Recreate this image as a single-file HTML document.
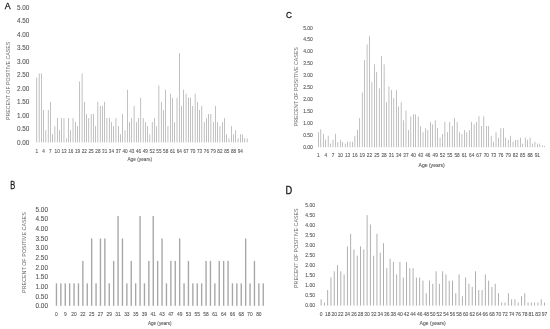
<!DOCTYPE html>
<html><head><meta charset="utf-8"><title>Figure</title>
<style>
html,body{margin:0;padding:0;background:#fff;}
svg{display:block;font-family:"Liberation Sans", Arial, sans-serif;}
</style></head>
<body>
<svg width="550" height="329" viewBox="0 0 550 329">
<rect width="550" height="329" fill="#ffffff"/>
<g fill="#727272">
<rect x="36.63" y="77.46" width="0.44" height="64.94"/>
<rect x="38.89" y="73.40" width="0.44" height="69.00"/>
<rect x="41.15" y="73.40" width="0.44" height="69.00"/>
<rect x="43.41" y="109.93" width="0.44" height="32.47"/>
<rect x="45.67" y="130.22" width="0.44" height="12.18"/>
<rect x="47.93" y="109.93" width="0.44" height="32.47"/>
<rect x="50.19" y="101.81" width="0.44" height="40.59"/>
<rect x="52.45" y="134.28" width="0.44" height="8.12"/>
<rect x="54.71" y="126.16" width="0.44" height="16.24"/>
<rect x="56.98" y="118.05" width="0.44" height="24.35"/>
<rect x="59.24" y="130.22" width="0.44" height="12.18"/>
<rect x="61.50" y="118.05" width="0.44" height="24.35"/>
<rect x="63.76" y="118.05" width="0.44" height="24.35"/>
<rect x="66.02" y="138.34" width="0.44" height="4.06"/>
<rect x="68.28" y="118.05" width="0.44" height="24.35"/>
<rect x="70.54" y="130.22" width="0.44" height="12.18"/>
<rect x="72.80" y="118.05" width="0.44" height="24.35"/>
<rect x="75.06" y="122.11" width="0.44" height="20.29"/>
<rect x="77.32" y="126.16" width="0.44" height="16.24"/>
<rect x="79.58" y="81.52" width="0.44" height="60.88"/>
<rect x="81.84" y="73.40" width="0.44" height="69.00"/>
<rect x="84.10" y="101.81" width="0.44" height="40.59"/>
<rect x="86.36" y="113.99" width="0.44" height="28.41"/>
<rect x="88.62" y="118.05" width="0.44" height="24.35"/>
<rect x="90.88" y="113.99" width="0.44" height="28.41"/>
<rect x="93.15" y="113.99" width="0.44" height="28.41"/>
<rect x="95.41" y="126.16" width="0.44" height="16.24"/>
<rect x="97.67" y="101.81" width="0.44" height="40.59"/>
<rect x="99.93" y="105.87" width="0.44" height="36.53"/>
<rect x="102.19" y="105.87" width="0.44" height="36.53"/>
<rect x="104.45" y="101.81" width="0.44" height="40.59"/>
<rect x="106.71" y="118.05" width="0.44" height="24.35"/>
<rect x="108.97" y="118.05" width="0.44" height="24.35"/>
<rect x="111.23" y="122.11" width="0.44" height="20.29"/>
<rect x="113.49" y="126.16" width="0.44" height="16.24"/>
<rect x="115.75" y="118.05" width="0.44" height="24.35"/>
<rect x="118.01" y="126.16" width="0.44" height="16.24"/>
<rect x="120.27" y="134.28" width="0.44" height="8.12"/>
<rect x="122.53" y="113.99" width="0.44" height="28.41"/>
<rect x="124.79" y="130.22" width="0.44" height="12.18"/>
<rect x="127.05" y="89.63" width="0.44" height="52.77"/>
<rect x="129.31" y="122.11" width="0.44" height="20.29"/>
<rect x="131.58" y="118.05" width="0.44" height="24.35"/>
<rect x="133.84" y="105.87" width="0.44" height="36.53"/>
<rect x="136.10" y="122.11" width="0.44" height="20.29"/>
<rect x="138.36" y="118.05" width="0.44" height="24.35"/>
<rect x="140.62" y="97.75" width="0.44" height="44.65"/>
<rect x="142.88" y="118.05" width="0.44" height="24.35"/>
<rect x="145.14" y="122.11" width="0.44" height="20.29"/>
<rect x="147.40" y="126.16" width="0.44" height="16.24"/>
<rect x="149.66" y="134.28" width="0.44" height="8.12"/>
<rect x="151.92" y="122.11" width="0.44" height="20.29"/>
<rect x="154.18" y="118.05" width="0.44" height="24.35"/>
<rect x="156.44" y="126.16" width="0.44" height="16.24"/>
<rect x="158.70" y="85.57" width="0.44" height="56.83"/>
<rect x="160.96" y="101.81" width="0.44" height="40.59"/>
<rect x="163.22" y="109.93" width="0.44" height="32.47"/>
<rect x="165.48" y="89.63" width="0.44" height="52.77"/>
<rect x="167.74" y="126.16" width="0.44" height="16.24"/>
<rect x="170.01" y="93.69" width="0.44" height="48.71"/>
<rect x="172.27" y="97.75" width="0.44" height="44.65"/>
<rect x="174.53" y="122.11" width="0.44" height="20.29"/>
<rect x="176.79" y="97.75" width="0.44" height="44.65"/>
<rect x="179.05" y="53.10" width="0.44" height="89.30"/>
<rect x="181.31" y="105.87" width="0.44" height="36.53"/>
<rect x="183.57" y="89.63" width="0.44" height="52.77"/>
<rect x="185.83" y="93.69" width="0.44" height="48.71"/>
<rect x="188.09" y="97.75" width="0.44" height="44.65"/>
<rect x="190.35" y="97.75" width="0.44" height="44.65"/>
<rect x="192.61" y="105.87" width="0.44" height="36.53"/>
<rect x="194.87" y="93.69" width="0.44" height="48.71"/>
<rect x="197.13" y="101.81" width="0.44" height="40.59"/>
<rect x="199.39" y="109.93" width="0.44" height="32.47"/>
<rect x="201.65" y="105.87" width="0.44" height="36.53"/>
<rect x="203.91" y="122.11" width="0.44" height="20.29"/>
<rect x="206.18" y="118.05" width="0.44" height="24.35"/>
<rect x="208.44" y="113.99" width="0.44" height="28.41"/>
<rect x="210.70" y="113.99" width="0.44" height="28.41"/>
<rect x="212.96" y="122.11" width="0.44" height="20.29"/>
<rect x="215.22" y="105.87" width="0.44" height="36.53"/>
<rect x="217.48" y="122.11" width="0.44" height="20.29"/>
<rect x="219.74" y="126.16" width="0.44" height="16.24"/>
<rect x="222.00" y="122.11" width="0.44" height="20.29"/>
<rect x="224.26" y="118.05" width="0.44" height="24.35"/>
<rect x="226.52" y="134.28" width="0.44" height="8.12"/>
<rect x="228.78" y="138.34" width="0.44" height="4.06"/>
<rect x="231.04" y="126.16" width="0.44" height="16.24"/>
<rect x="233.30" y="134.28" width="0.44" height="8.12"/>
<rect x="235.56" y="130.22" width="0.44" height="12.18"/>
<rect x="237.82" y="138.34" width="0.44" height="4.06"/>
<rect x="240.08" y="134.28" width="0.44" height="8.12"/>
<rect x="242.34" y="134.28" width="0.44" height="8.12"/>
<rect x="244.61" y="138.34" width="0.44" height="4.06"/>
<rect x="246.87" y="138.34" width="0.44" height="4.06"/>
</g>
<text x="29.40" y="144.81" font-size="7.0" fill="#575757" text-anchor="end" textLength="12.40" lengthAdjust="spacingAndGlyphs" stroke="#575757" stroke-width="0.1">0.00</text>
<text x="29.40" y="131.28" font-size="7.0" fill="#575757" text-anchor="end" textLength="12.40" lengthAdjust="spacingAndGlyphs" stroke="#575757" stroke-width="0.1">0.50</text>
<text x="29.40" y="117.75" font-size="7.0" fill="#575757" text-anchor="end" textLength="12.40" lengthAdjust="spacingAndGlyphs" stroke="#575757" stroke-width="0.1">1.00</text>
<text x="29.40" y="104.22" font-size="7.0" fill="#575757" text-anchor="end" textLength="12.40" lengthAdjust="spacingAndGlyphs" stroke="#575757" stroke-width="0.1">1.50</text>
<text x="29.40" y="90.69" font-size="7.0" fill="#575757" text-anchor="end" textLength="12.40" lengthAdjust="spacingAndGlyphs" stroke="#575757" stroke-width="0.1">2.00</text>
<text x="29.40" y="77.16" font-size="7.0" fill="#575757" text-anchor="end" textLength="12.40" lengthAdjust="spacingAndGlyphs" stroke="#575757" stroke-width="0.1">2.50</text>
<text x="29.40" y="63.63" font-size="7.0" fill="#575757" text-anchor="end" textLength="12.40" lengthAdjust="spacingAndGlyphs" stroke="#575757" stroke-width="0.1">3.00</text>
<text x="29.40" y="50.10" font-size="7.0" fill="#575757" text-anchor="end" textLength="12.40" lengthAdjust="spacingAndGlyphs" stroke="#575757" stroke-width="0.1">3.50</text>
<text x="29.40" y="36.57" font-size="7.0" fill="#575757" text-anchor="end" textLength="12.40" lengthAdjust="spacingAndGlyphs" stroke="#575757" stroke-width="0.1">4.00</text>
<text x="29.40" y="23.04" font-size="7.0" fill="#575757" text-anchor="end" textLength="12.40" lengthAdjust="spacingAndGlyphs" stroke="#575757" stroke-width="0.1">4.50</text>
<text x="29.40" y="9.51" font-size="7.0" fill="#575757" text-anchor="end" textLength="12.40" lengthAdjust="spacingAndGlyphs" stroke="#575757" stroke-width="0.1">5.00</text>
<text x="36.85" y="152.95" font-size="6.0" fill="#575757" text-anchor="middle" textLength="2.60" lengthAdjust="spacingAndGlyphs" stroke="#575757" stroke-width="0.1">1</text>
<text x="43.63" y="152.95" font-size="6.0" fill="#575757" text-anchor="middle" textLength="2.60" lengthAdjust="spacingAndGlyphs" stroke="#575757" stroke-width="0.1">4</text>
<text x="50.41" y="152.95" font-size="6.0" fill="#575757" text-anchor="middle" textLength="2.60" lengthAdjust="spacingAndGlyphs" stroke="#575757" stroke-width="0.1">7</text>
<text x="57.20" y="152.95" font-size="6.0" fill="#575757" text-anchor="middle" textLength="5.20" lengthAdjust="spacingAndGlyphs" stroke="#575757" stroke-width="0.1">10</text>
<text x="63.98" y="152.95" font-size="6.0" fill="#575757" text-anchor="middle" textLength="5.20" lengthAdjust="spacingAndGlyphs" stroke="#575757" stroke-width="0.1">13</text>
<text x="70.76" y="152.95" font-size="6.0" fill="#575757" text-anchor="middle" textLength="5.20" lengthAdjust="spacingAndGlyphs" stroke="#575757" stroke-width="0.1">16</text>
<text x="77.54" y="152.95" font-size="6.0" fill="#575757" text-anchor="middle" textLength="5.20" lengthAdjust="spacingAndGlyphs" stroke="#575757" stroke-width="0.1">19</text>
<text x="84.32" y="152.95" font-size="6.0" fill="#575757" text-anchor="middle" textLength="5.20" lengthAdjust="spacingAndGlyphs" stroke="#575757" stroke-width="0.1">22</text>
<text x="91.10" y="152.95" font-size="6.0" fill="#575757" text-anchor="middle" textLength="5.20" lengthAdjust="spacingAndGlyphs" stroke="#575757" stroke-width="0.1">25</text>
<text x="97.89" y="152.95" font-size="6.0" fill="#575757" text-anchor="middle" textLength="5.20" lengthAdjust="spacingAndGlyphs" stroke="#575757" stroke-width="0.1">28</text>
<text x="104.67" y="152.95" font-size="6.0" fill="#575757" text-anchor="middle" textLength="5.20" lengthAdjust="spacingAndGlyphs" stroke="#575757" stroke-width="0.1">31</text>
<text x="111.45" y="152.95" font-size="6.0" fill="#575757" text-anchor="middle" textLength="5.20" lengthAdjust="spacingAndGlyphs" stroke="#575757" stroke-width="0.1">34</text>
<text x="118.23" y="152.95" font-size="6.0" fill="#575757" text-anchor="middle" textLength="5.20" lengthAdjust="spacingAndGlyphs" stroke="#575757" stroke-width="0.1">37</text>
<text x="125.01" y="152.95" font-size="6.0" fill="#575757" text-anchor="middle" textLength="5.20" lengthAdjust="spacingAndGlyphs" stroke="#575757" stroke-width="0.1">40</text>
<text x="131.80" y="152.95" font-size="6.0" fill="#575757" text-anchor="middle" textLength="5.20" lengthAdjust="spacingAndGlyphs" stroke="#575757" stroke-width="0.1">43</text>
<text x="138.58" y="152.95" font-size="6.0" fill="#575757" text-anchor="middle" textLength="5.20" lengthAdjust="spacingAndGlyphs" stroke="#575757" stroke-width="0.1">46</text>
<text x="145.36" y="152.95" font-size="6.0" fill="#575757" text-anchor="middle" textLength="5.20" lengthAdjust="spacingAndGlyphs" stroke="#575757" stroke-width="0.1">49</text>
<text x="152.14" y="152.95" font-size="6.0" fill="#575757" text-anchor="middle" textLength="5.20" lengthAdjust="spacingAndGlyphs" stroke="#575757" stroke-width="0.1">52</text>
<text x="158.92" y="152.95" font-size="6.0" fill="#575757" text-anchor="middle" textLength="5.20" lengthAdjust="spacingAndGlyphs" stroke="#575757" stroke-width="0.1">55</text>
<text x="165.70" y="152.95" font-size="6.0" fill="#575757" text-anchor="middle" textLength="5.20" lengthAdjust="spacingAndGlyphs" stroke="#575757" stroke-width="0.1">58</text>
<text x="172.49" y="152.95" font-size="6.0" fill="#575757" text-anchor="middle" textLength="5.20" lengthAdjust="spacingAndGlyphs" stroke="#575757" stroke-width="0.1">61</text>
<text x="179.27" y="152.95" font-size="6.0" fill="#575757" text-anchor="middle" textLength="5.20" lengthAdjust="spacingAndGlyphs" stroke="#575757" stroke-width="0.1">64</text>
<text x="186.05" y="152.95" font-size="6.0" fill="#575757" text-anchor="middle" textLength="5.20" lengthAdjust="spacingAndGlyphs" stroke="#575757" stroke-width="0.1">67</text>
<text x="192.83" y="152.95" font-size="6.0" fill="#575757" text-anchor="middle" textLength="5.20" lengthAdjust="spacingAndGlyphs" stroke="#575757" stroke-width="0.1">70</text>
<text x="199.61" y="152.95" font-size="6.0" fill="#575757" text-anchor="middle" textLength="5.20" lengthAdjust="spacingAndGlyphs" stroke="#575757" stroke-width="0.1">73</text>
<text x="206.40" y="152.95" font-size="6.0" fill="#575757" text-anchor="middle" textLength="5.20" lengthAdjust="spacingAndGlyphs" stroke="#575757" stroke-width="0.1">76</text>
<text x="213.18" y="152.95" font-size="6.0" fill="#575757" text-anchor="middle" textLength="5.20" lengthAdjust="spacingAndGlyphs" stroke="#575757" stroke-width="0.1">79</text>
<text x="219.96" y="152.95" font-size="6.0" fill="#575757" text-anchor="middle" textLength="5.20" lengthAdjust="spacingAndGlyphs" stroke="#575757" stroke-width="0.1">82</text>
<text x="226.74" y="152.95" font-size="6.0" fill="#575757" text-anchor="middle" textLength="5.20" lengthAdjust="spacingAndGlyphs" stroke="#575757" stroke-width="0.1">85</text>
<text x="233.52" y="152.95" font-size="6.0" fill="#575757" text-anchor="middle" textLength="5.20" lengthAdjust="spacingAndGlyphs" stroke="#575757" stroke-width="0.1">88</text>
<text x="240.30" y="152.95" font-size="6.0" fill="#575757" text-anchor="middle" textLength="5.20" lengthAdjust="spacingAndGlyphs" stroke="#575757" stroke-width="0.1">94</text>
<text x="10.00" y="80.85" font-size="6.1" fill="#686868" text-anchor="middle" textLength="78.20" lengthAdjust="spacingAndGlyphs" transform="rotate(-90 10.00 80.85)">PRECENT OF POSITIVE CASES</text>
<text x="139.70" y="160.70" font-size="6.1" fill="#575757" text-anchor="middle" textLength="24.60" lengthAdjust="spacingAndGlyphs" stroke="#575757" stroke-width="0.1">Age (years)</text>
<text x="4.80" y="9.45" font-size="9.8" fill="#1a1a1a" text-anchor="start" textLength="5.90" lengthAdjust="spacingAndGlyphs" stroke="#1a1a1a" stroke-width="0.3">A</text>
<g fill="#a6a6a6">
<rect x="55.78" y="283.35" width="1.35" height="22.45"/>
<rect x="60.18" y="283.35" width="1.35" height="22.45"/>
<rect x="64.58" y="283.35" width="1.35" height="22.45"/>
<rect x="68.98" y="283.35" width="1.35" height="22.45"/>
<rect x="73.38" y="283.35" width="1.35" height="22.45"/>
<rect x="77.78" y="283.35" width="1.35" height="22.45"/>
<rect x="82.18" y="260.91" width="1.35" height="44.89"/>
<rect x="86.58" y="283.35" width="1.35" height="22.45"/>
<rect x="90.98" y="238.46" width="1.35" height="67.34"/>
<rect x="95.38" y="283.35" width="1.35" height="22.45"/>
<rect x="99.78" y="238.46" width="1.35" height="67.34"/>
<rect x="104.18" y="238.46" width="1.35" height="67.34"/>
<rect x="108.58" y="283.35" width="1.35" height="22.45"/>
<rect x="112.98" y="260.91" width="1.35" height="44.89"/>
<rect x="117.38" y="216.02" width="1.35" height="89.78"/>
<rect x="121.78" y="238.46" width="1.35" height="67.34"/>
<rect x="126.18" y="283.35" width="1.35" height="22.45"/>
<rect x="130.57" y="260.91" width="1.35" height="44.89"/>
<rect x="134.97" y="283.35" width="1.35" height="22.45"/>
<rect x="139.38" y="216.02" width="1.35" height="89.78"/>
<rect x="143.77" y="283.35" width="1.35" height="22.45"/>
<rect x="148.18" y="260.91" width="1.35" height="44.89"/>
<rect x="152.57" y="216.02" width="1.35" height="89.78"/>
<rect x="156.97" y="260.91" width="1.35" height="44.89"/>
<rect x="161.38" y="238.46" width="1.35" height="67.34"/>
<rect x="165.78" y="283.35" width="1.35" height="22.45"/>
<rect x="170.18" y="260.91" width="1.35" height="44.89"/>
<rect x="174.57" y="260.91" width="1.35" height="44.89"/>
<rect x="178.98" y="238.46" width="1.35" height="67.34"/>
<rect x="183.38" y="283.35" width="1.35" height="22.45"/>
<rect x="187.77" y="260.91" width="1.35" height="44.89"/>
<rect x="192.18" y="283.35" width="1.35" height="22.45"/>
<rect x="196.57" y="283.35" width="1.35" height="22.45"/>
<rect x="200.98" y="283.35" width="1.35" height="22.45"/>
<rect x="205.38" y="260.91" width="1.35" height="44.89"/>
<rect x="209.77" y="260.91" width="1.35" height="44.89"/>
<rect x="214.18" y="283.35" width="1.35" height="22.45"/>
<rect x="218.57" y="260.91" width="1.35" height="44.89"/>
<rect x="222.98" y="260.91" width="1.35" height="44.89"/>
<rect x="227.38" y="260.91" width="1.35" height="44.89"/>
<rect x="231.77" y="283.35" width="1.35" height="22.45"/>
<rect x="236.18" y="283.35" width="1.35" height="22.45"/>
<rect x="240.57" y="283.35" width="1.35" height="22.45"/>
<rect x="244.98" y="238.46" width="1.35" height="67.34"/>
<rect x="249.38" y="283.35" width="1.35" height="22.45"/>
<rect x="253.78" y="260.91" width="1.35" height="44.89"/>
<rect x="258.18" y="283.35" width="1.35" height="22.45"/>
<rect x="262.57" y="283.35" width="1.35" height="22.45"/>
</g>
<text x="48.00" y="308.22" font-size="6.9" fill="#575757" text-anchor="end" textLength="12.50" lengthAdjust="spacingAndGlyphs" stroke="#575757" stroke-width="0.1">0.00</text>
<text x="48.00" y="298.57" font-size="6.9" fill="#575757" text-anchor="end" textLength="12.50" lengthAdjust="spacingAndGlyphs" stroke="#575757" stroke-width="0.1">0.50</text>
<text x="48.00" y="288.92" font-size="6.9" fill="#575757" text-anchor="end" textLength="12.50" lengthAdjust="spacingAndGlyphs" stroke="#575757" stroke-width="0.1">1.00</text>
<text x="48.00" y="279.27" font-size="6.9" fill="#575757" text-anchor="end" textLength="12.50" lengthAdjust="spacingAndGlyphs" stroke="#575757" stroke-width="0.1">1.50</text>
<text x="48.00" y="269.62" font-size="6.9" fill="#575757" text-anchor="end" textLength="12.50" lengthAdjust="spacingAndGlyphs" stroke="#575757" stroke-width="0.1">2.00</text>
<text x="48.00" y="259.97" font-size="6.9" fill="#575757" text-anchor="end" textLength="12.50" lengthAdjust="spacingAndGlyphs" stroke="#575757" stroke-width="0.1">2.50</text>
<text x="48.00" y="250.32" font-size="6.9" fill="#575757" text-anchor="end" textLength="12.50" lengthAdjust="spacingAndGlyphs" stroke="#575757" stroke-width="0.1">3.00</text>
<text x="48.00" y="240.67" font-size="6.9" fill="#575757" text-anchor="end" textLength="12.50" lengthAdjust="spacingAndGlyphs" stroke="#575757" stroke-width="0.1">3.50</text>
<text x="48.00" y="231.02" font-size="6.9" fill="#575757" text-anchor="end" textLength="12.50" lengthAdjust="spacingAndGlyphs" stroke="#575757" stroke-width="0.1">4.00</text>
<text x="48.00" y="221.37" font-size="6.9" fill="#575757" text-anchor="end" textLength="12.50" lengthAdjust="spacingAndGlyphs" stroke="#575757" stroke-width="0.1">4.50</text>
<text x="48.00" y="211.72" font-size="6.9" fill="#575757" text-anchor="end" textLength="12.50" lengthAdjust="spacingAndGlyphs" stroke="#575757" stroke-width="0.1">5.00</text>
<text x="56.45" y="315.97" font-size="5.5" fill="#575757" text-anchor="middle" textLength="2.70" lengthAdjust="spacingAndGlyphs" stroke="#575757" stroke-width="0.1">0</text>
<text x="65.25" y="315.97" font-size="5.5" fill="#575757" text-anchor="middle" textLength="2.70" lengthAdjust="spacingAndGlyphs" stroke="#575757" stroke-width="0.1">9</text>
<text x="74.05" y="315.97" font-size="5.5" fill="#575757" text-anchor="middle" textLength="5.40" lengthAdjust="spacingAndGlyphs" stroke="#575757" stroke-width="0.1">20</text>
<text x="82.85" y="315.97" font-size="5.5" fill="#575757" text-anchor="middle" textLength="5.40" lengthAdjust="spacingAndGlyphs" stroke="#575757" stroke-width="0.1">22</text>
<text x="91.65" y="315.97" font-size="5.5" fill="#575757" text-anchor="middle" textLength="5.40" lengthAdjust="spacingAndGlyphs" stroke="#575757" stroke-width="0.1">25</text>
<text x="100.45" y="315.97" font-size="5.5" fill="#575757" text-anchor="middle" textLength="5.40" lengthAdjust="spacingAndGlyphs" stroke="#575757" stroke-width="0.1">27</text>
<text x="109.25" y="315.97" font-size="5.5" fill="#575757" text-anchor="middle" textLength="5.40" lengthAdjust="spacingAndGlyphs" stroke="#575757" stroke-width="0.1">29</text>
<text x="118.05" y="315.97" font-size="5.5" fill="#575757" text-anchor="middle" textLength="5.40" lengthAdjust="spacingAndGlyphs" stroke="#575757" stroke-width="0.1">31</text>
<text x="126.85" y="315.97" font-size="5.5" fill="#575757" text-anchor="middle" textLength="5.40" lengthAdjust="spacingAndGlyphs" stroke="#575757" stroke-width="0.1">33</text>
<text x="135.65" y="315.97" font-size="5.5" fill="#575757" text-anchor="middle" textLength="5.40" lengthAdjust="spacingAndGlyphs" stroke="#575757" stroke-width="0.1">35</text>
<text x="144.45" y="315.97" font-size="5.5" fill="#575757" text-anchor="middle" textLength="5.40" lengthAdjust="spacingAndGlyphs" stroke="#575757" stroke-width="0.1">39</text>
<text x="153.25" y="315.97" font-size="5.5" fill="#575757" text-anchor="middle" textLength="5.40" lengthAdjust="spacingAndGlyphs" stroke="#575757" stroke-width="0.1">41</text>
<text x="162.05" y="315.97" font-size="5.5" fill="#575757" text-anchor="middle" textLength="5.40" lengthAdjust="spacingAndGlyphs" stroke="#575757" stroke-width="0.1">43</text>
<text x="170.85" y="315.97" font-size="5.5" fill="#575757" text-anchor="middle" textLength="5.40" lengthAdjust="spacingAndGlyphs" stroke="#575757" stroke-width="0.1">47</text>
<text x="179.65" y="315.97" font-size="5.5" fill="#575757" text-anchor="middle" textLength="5.40" lengthAdjust="spacingAndGlyphs" stroke="#575757" stroke-width="0.1">49</text>
<text x="188.45" y="315.97" font-size="5.5" fill="#575757" text-anchor="middle" textLength="5.40" lengthAdjust="spacingAndGlyphs" stroke="#575757" stroke-width="0.1">53</text>
<text x="197.25" y="315.97" font-size="5.5" fill="#575757" text-anchor="middle" textLength="5.40" lengthAdjust="spacingAndGlyphs" stroke="#575757" stroke-width="0.1">55</text>
<text x="206.05" y="315.97" font-size="5.5" fill="#575757" text-anchor="middle" textLength="5.40" lengthAdjust="spacingAndGlyphs" stroke="#575757" stroke-width="0.1">58</text>
<text x="214.85" y="315.97" font-size="5.5" fill="#575757" text-anchor="middle" textLength="5.40" lengthAdjust="spacingAndGlyphs" stroke="#575757" stroke-width="0.1">61</text>
<text x="223.65" y="315.97" font-size="5.5" fill="#575757" text-anchor="middle" textLength="5.40" lengthAdjust="spacingAndGlyphs" stroke="#575757" stroke-width="0.1">64</text>
<text x="232.45" y="315.97" font-size="5.5" fill="#575757" text-anchor="middle" textLength="5.40" lengthAdjust="spacingAndGlyphs" stroke="#575757" stroke-width="0.1">66</text>
<text x="241.25" y="315.97" font-size="5.5" fill="#575757" text-anchor="middle" textLength="5.40" lengthAdjust="spacingAndGlyphs" stroke="#575757" stroke-width="0.1">68</text>
<text x="250.05" y="315.97" font-size="5.5" fill="#575757" text-anchor="middle" textLength="5.40" lengthAdjust="spacingAndGlyphs" stroke="#575757" stroke-width="0.1">70</text>
<text x="258.85" y="315.97" font-size="5.5" fill="#575757" text-anchor="middle" textLength="5.40" lengthAdjust="spacingAndGlyphs" stroke="#575757" stroke-width="0.1">80</text>
<text x="25.88" y="252.60" font-size="5.8" fill="#686868" text-anchor="middle" textLength="80.70" lengthAdjust="spacingAndGlyphs" transform="rotate(-90 25.88 252.60)">PRECENT OF POSITIVE CASES</text>
<text x="159.80" y="325.20" font-size="5.4" fill="#575757" text-anchor="middle" textLength="23.70" lengthAdjust="spacingAndGlyphs" stroke="#575757" stroke-width="0.1">Age (years)</text>
<text x="10.30" y="188.75" font-size="10.1" fill="#1a1a1a" text-anchor="start" textLength="5.00" lengthAdjust="spacingAndGlyphs" stroke="#1a1a1a" stroke-width="0.3">B</text>
<g fill="#8c8c8c">
<rect x="318.12" y="132.19" width="0.55" height="15.01"/>
<rect x="320.56" y="129.33" width="0.55" height="17.87"/>
<rect x="322.99" y="133.86" width="0.55" height="13.34"/>
<rect x="325.42" y="139.58" width="0.55" height="7.62"/>
<rect x="327.86" y="135.77" width="0.55" height="11.43"/>
<rect x="330.29" y="143.63" width="0.55" height="3.57"/>
<rect x="332.72" y="139.82" width="0.55" height="7.38"/>
<rect x="335.16" y="133.86" width="0.55" height="13.34"/>
<rect x="337.59" y="141.96" width="0.55" height="5.24"/>
<rect x="340.02" y="139.82" width="0.55" height="7.38"/>
<rect x="342.45" y="141.96" width="0.55" height="5.24"/>
<rect x="344.89" y="143.63" width="0.55" height="3.57"/>
<rect x="347.32" y="141.72" width="0.55" height="5.48"/>
<rect x="349.75" y="141.72" width="0.55" height="5.48"/>
<rect x="352.19" y="141.72" width="0.55" height="5.48"/>
<rect x="354.62" y="135.77" width="0.55" height="11.43"/>
<rect x="357.05" y="129.81" width="0.55" height="17.39"/>
<rect x="359.49" y="118.14" width="0.55" height="29.06"/>
<rect x="361.92" y="92.41" width="0.55" height="54.79"/>
<rect x="364.35" y="60.02" width="0.55" height="87.18"/>
<rect x="366.78" y="44.30" width="0.55" height="102.90"/>
<rect x="369.22" y="36.20" width="0.55" height="111.00"/>
<rect x="371.65" y="82.17" width="0.55" height="65.03"/>
<rect x="374.08" y="64.31" width="0.55" height="82.89"/>
<rect x="376.52" y="71.93" width="0.55" height="75.27"/>
<rect x="378.95" y="88.36" width="0.55" height="58.84"/>
<rect x="381.38" y="55.97" width="0.55" height="91.23"/>
<rect x="383.82" y="64.31" width="0.55" height="82.89"/>
<rect x="386.25" y="102.18" width="0.55" height="45.02"/>
<rect x="388.68" y="86.46" width="0.55" height="60.74"/>
<rect x="391.12" y="90.03" width="0.55" height="57.17"/>
<rect x="393.55" y="98.13" width="0.55" height="49.07"/>
<rect x="395.98" y="90.03" width="0.55" height="57.17"/>
<rect x="398.41" y="106.47" width="0.55" height="40.73"/>
<rect x="400.85" y="102.18" width="0.55" height="45.02"/>
<rect x="403.28" y="120.28" width="0.55" height="26.92"/>
<rect x="405.71" y="110.52" width="0.55" height="36.68"/>
<rect x="408.15" y="130.05" width="0.55" height="17.15"/>
<rect x="410.58" y="116.47" width="0.55" height="30.73"/>
<rect x="413.01" y="114.33" width="0.55" height="32.87"/>
<rect x="415.44" y="114.33" width="0.55" height="32.87"/>
<rect x="417.88" y="116.47" width="0.55" height="30.73"/>
<rect x="420.31" y="126.24" width="0.55" height="20.96"/>
<rect x="422.74" y="132.19" width="0.55" height="15.01"/>
<rect x="425.18" y="128.14" width="0.55" height="19.06"/>
<rect x="427.61" y="130.05" width="0.55" height="17.15"/>
<rect x="430.04" y="121.95" width="0.55" height="25.25"/>
<rect x="432.48" y="124.33" width="0.55" height="22.87"/>
<rect x="434.91" y="120.28" width="0.55" height="26.92"/>
<rect x="437.34" y="128.14" width="0.55" height="19.06"/>
<rect x="439.77" y="137.67" width="0.55" height="9.53"/>
<rect x="442.21" y="134.10" width="0.55" height="13.10"/>
<rect x="444.64" y="121.95" width="0.55" height="25.25"/>
<rect x="447.07" y="132.19" width="0.55" height="15.01"/>
<rect x="449.51" y="121.95" width="0.55" height="25.25"/>
<rect x="451.94" y="126.00" width="0.55" height="21.20"/>
<rect x="454.37" y="117.90" width="0.55" height="29.30"/>
<rect x="456.81" y="121.95" width="0.55" height="25.25"/>
<rect x="459.24" y="132.19" width="0.55" height="15.01"/>
<rect x="461.67" y="134.10" width="0.55" height="13.10"/>
<rect x="464.11" y="130.05" width="0.55" height="17.15"/>
<rect x="466.54" y="132.19" width="0.55" height="15.01"/>
<rect x="468.97" y="130.05" width="0.55" height="17.15"/>
<rect x="471.40" y="121.95" width="0.55" height="25.25"/>
<rect x="473.84" y="124.33" width="0.55" height="22.87"/>
<rect x="476.27" y="121.95" width="0.55" height="25.25"/>
<rect x="478.70" y="116.23" width="0.55" height="30.97"/>
<rect x="481.14" y="126.00" width="0.55" height="21.20"/>
<rect x="483.57" y="116.23" width="0.55" height="30.97"/>
<rect x="486.00" y="126.00" width="0.55" height="21.20"/>
<rect x="488.44" y="126.00" width="0.55" height="21.20"/>
<rect x="490.87" y="135.77" width="0.55" height="11.43"/>
<rect x="493.30" y="141.72" width="0.55" height="5.48"/>
<rect x="495.73" y="132.19" width="0.55" height="15.01"/>
<rect x="498.17" y="137.67" width="0.55" height="9.53"/>
<rect x="500.60" y="128.14" width="0.55" height="19.06"/>
<rect x="503.03" y="128.14" width="0.55" height="19.06"/>
<rect x="505.47" y="137.67" width="0.55" height="9.53"/>
<rect x="507.90" y="139.82" width="0.55" height="7.38"/>
<rect x="510.33" y="135.77" width="0.55" height="11.43"/>
<rect x="512.76" y="141.72" width="0.55" height="5.48"/>
<rect x="515.20" y="139.82" width="0.55" height="7.38"/>
<rect x="517.63" y="139.82" width="0.55" height="7.38"/>
<rect x="520.06" y="137.67" width="0.55" height="9.53"/>
<rect x="522.50" y="143.63" width="0.55" height="3.57"/>
<rect x="524.93" y="137.67" width="0.55" height="9.53"/>
<rect x="527.36" y="139.82" width="0.55" height="7.38"/>
<rect x="529.80" y="137.67" width="0.55" height="9.53"/>
<rect x="532.23" y="143.63" width="0.55" height="3.57"/>
<rect x="534.66" y="141.72" width="0.55" height="5.48"/>
<rect x="537.09" y="143.63" width="0.55" height="3.57"/>
<rect x="539.53" y="143.63" width="0.55" height="3.57"/>
<rect x="541.96" y="145.29" width="0.55" height="1.91"/>
<rect x="544.39" y="146.01" width="0.55" height="1.19"/>
</g>
<text x="312.90" y="148.61" font-size="5.2" fill="#575757" text-anchor="end" textLength="9.70" lengthAdjust="spacingAndGlyphs" stroke="#575757" stroke-width="0.1">0.00</text>
<text x="312.90" y="136.70" font-size="5.2" fill="#575757" text-anchor="end" textLength="9.70" lengthAdjust="spacingAndGlyphs" stroke="#575757" stroke-width="0.1">0.50</text>
<text x="312.90" y="124.79" font-size="5.2" fill="#575757" text-anchor="end" textLength="9.70" lengthAdjust="spacingAndGlyphs" stroke="#575757" stroke-width="0.1">1.00</text>
<text x="312.90" y="112.88" font-size="5.2" fill="#575757" text-anchor="end" textLength="9.70" lengthAdjust="spacingAndGlyphs" stroke="#575757" stroke-width="0.1">1.50</text>
<text x="312.90" y="100.97" font-size="5.2" fill="#575757" text-anchor="end" textLength="9.70" lengthAdjust="spacingAndGlyphs" stroke="#575757" stroke-width="0.1">2.00</text>
<text x="312.90" y="89.06" font-size="5.2" fill="#575757" text-anchor="end" textLength="9.70" lengthAdjust="spacingAndGlyphs" stroke="#575757" stroke-width="0.1">2.50</text>
<text x="312.90" y="77.15" font-size="5.2" fill="#575757" text-anchor="end" textLength="9.70" lengthAdjust="spacingAndGlyphs" stroke="#575757" stroke-width="0.1">3.00</text>
<text x="312.90" y="65.24" font-size="5.2" fill="#575757" text-anchor="end" textLength="9.70" lengthAdjust="spacingAndGlyphs" stroke="#575757" stroke-width="0.1">3.50</text>
<text x="312.90" y="53.33" font-size="5.2" fill="#575757" text-anchor="end" textLength="9.70" lengthAdjust="spacingAndGlyphs" stroke="#575757" stroke-width="0.1">4.00</text>
<text x="312.90" y="41.42" font-size="5.2" fill="#575757" text-anchor="end" textLength="9.70" lengthAdjust="spacingAndGlyphs" stroke="#575757" stroke-width="0.1">4.50</text>
<text x="312.90" y="29.51" font-size="5.2" fill="#575757" text-anchor="end" textLength="9.70" lengthAdjust="spacingAndGlyphs" stroke="#575757" stroke-width="0.1">5.00</text>
<text x="318.40" y="156.93" font-size="5.4" fill="#575757" text-anchor="middle" textLength="2.65" lengthAdjust="spacingAndGlyphs" stroke="#575757" stroke-width="0.1">1</text>
<text x="325.70" y="156.93" font-size="5.4" fill="#575757" text-anchor="middle" textLength="2.65" lengthAdjust="spacingAndGlyphs" stroke="#575757" stroke-width="0.1">4</text>
<text x="333.00" y="156.93" font-size="5.4" fill="#575757" text-anchor="middle" textLength="2.65" lengthAdjust="spacingAndGlyphs" stroke="#575757" stroke-width="0.1">7</text>
<text x="340.30" y="156.93" font-size="5.4" fill="#575757" text-anchor="middle" textLength="5.30" lengthAdjust="spacingAndGlyphs" stroke="#575757" stroke-width="0.1">10</text>
<text x="347.60" y="156.93" font-size="5.4" fill="#575757" text-anchor="middle" textLength="5.30" lengthAdjust="spacingAndGlyphs" stroke="#575757" stroke-width="0.1">13</text>
<text x="354.89" y="156.93" font-size="5.4" fill="#575757" text-anchor="middle" textLength="5.30" lengthAdjust="spacingAndGlyphs" stroke="#575757" stroke-width="0.1">16</text>
<text x="362.19" y="156.93" font-size="5.4" fill="#575757" text-anchor="middle" textLength="5.30" lengthAdjust="spacingAndGlyphs" stroke="#575757" stroke-width="0.1">19</text>
<text x="369.49" y="156.93" font-size="5.4" fill="#575757" text-anchor="middle" textLength="5.30" lengthAdjust="spacingAndGlyphs" stroke="#575757" stroke-width="0.1">22</text>
<text x="376.79" y="156.93" font-size="5.4" fill="#575757" text-anchor="middle" textLength="5.30" lengthAdjust="spacingAndGlyphs" stroke="#575757" stroke-width="0.1">25</text>
<text x="384.09" y="156.93" font-size="5.4" fill="#575757" text-anchor="middle" textLength="5.30" lengthAdjust="spacingAndGlyphs" stroke="#575757" stroke-width="0.1">28</text>
<text x="391.39" y="156.93" font-size="5.4" fill="#575757" text-anchor="middle" textLength="5.30" lengthAdjust="spacingAndGlyphs" stroke="#575757" stroke-width="0.1">31</text>
<text x="398.69" y="156.93" font-size="5.4" fill="#575757" text-anchor="middle" textLength="5.30" lengthAdjust="spacingAndGlyphs" stroke="#575757" stroke-width="0.1">34</text>
<text x="405.99" y="156.93" font-size="5.4" fill="#575757" text-anchor="middle" textLength="5.30" lengthAdjust="spacingAndGlyphs" stroke="#575757" stroke-width="0.1">37</text>
<text x="413.29" y="156.93" font-size="5.4" fill="#575757" text-anchor="middle" textLength="5.30" lengthAdjust="spacingAndGlyphs" stroke="#575757" stroke-width="0.1">40</text>
<text x="420.59" y="156.93" font-size="5.4" fill="#575757" text-anchor="middle" textLength="5.30" lengthAdjust="spacingAndGlyphs" stroke="#575757" stroke-width="0.1">43</text>
<text x="427.88" y="156.93" font-size="5.4" fill="#575757" text-anchor="middle" textLength="5.30" lengthAdjust="spacingAndGlyphs" stroke="#575757" stroke-width="0.1">46</text>
<text x="435.18" y="156.93" font-size="5.4" fill="#575757" text-anchor="middle" textLength="5.30" lengthAdjust="spacingAndGlyphs" stroke="#575757" stroke-width="0.1">49</text>
<text x="442.48" y="156.93" font-size="5.4" fill="#575757" text-anchor="middle" textLength="5.30" lengthAdjust="spacingAndGlyphs" stroke="#575757" stroke-width="0.1">52</text>
<text x="449.78" y="156.93" font-size="5.4" fill="#575757" text-anchor="middle" textLength="5.30" lengthAdjust="spacingAndGlyphs" stroke="#575757" stroke-width="0.1">55</text>
<text x="457.08" y="156.93" font-size="5.4" fill="#575757" text-anchor="middle" textLength="5.30" lengthAdjust="spacingAndGlyphs" stroke="#575757" stroke-width="0.1">58</text>
<text x="464.38" y="156.93" font-size="5.4" fill="#575757" text-anchor="middle" textLength="5.30" lengthAdjust="spacingAndGlyphs" stroke="#575757" stroke-width="0.1">61</text>
<text x="471.68" y="156.93" font-size="5.4" fill="#575757" text-anchor="middle" textLength="5.30" lengthAdjust="spacingAndGlyphs" stroke="#575757" stroke-width="0.1">64</text>
<text x="478.98" y="156.93" font-size="5.4" fill="#575757" text-anchor="middle" textLength="5.30" lengthAdjust="spacingAndGlyphs" stroke="#575757" stroke-width="0.1">67</text>
<text x="486.28" y="156.93" font-size="5.4" fill="#575757" text-anchor="middle" textLength="5.30" lengthAdjust="spacingAndGlyphs" stroke="#575757" stroke-width="0.1">70</text>
<text x="493.58" y="156.93" font-size="5.4" fill="#575757" text-anchor="middle" textLength="5.30" lengthAdjust="spacingAndGlyphs" stroke="#575757" stroke-width="0.1">73</text>
<text x="500.88" y="156.93" font-size="5.4" fill="#575757" text-anchor="middle" textLength="5.30" lengthAdjust="spacingAndGlyphs" stroke="#575757" stroke-width="0.1">76</text>
<text x="508.17" y="156.93" font-size="5.4" fill="#575757" text-anchor="middle" textLength="5.30" lengthAdjust="spacingAndGlyphs" stroke="#575757" stroke-width="0.1">79</text>
<text x="515.47" y="156.93" font-size="5.4" fill="#575757" text-anchor="middle" textLength="5.30" lengthAdjust="spacingAndGlyphs" stroke="#575757" stroke-width="0.1">82</text>
<text x="522.77" y="156.93" font-size="5.4" fill="#575757" text-anchor="middle" textLength="5.30" lengthAdjust="spacingAndGlyphs" stroke="#575757" stroke-width="0.1">85</text>
<text x="530.07" y="156.93" font-size="5.4" fill="#575757" text-anchor="middle" textLength="5.30" lengthAdjust="spacingAndGlyphs" stroke="#575757" stroke-width="0.1">88</text>
<text x="537.37" y="156.93" font-size="5.4" fill="#575757" text-anchor="middle" textLength="5.30" lengthAdjust="spacingAndGlyphs" stroke="#575757" stroke-width="0.1">91</text>
<text x="298.24" y="86.75" font-size="5.7" fill="#686868" text-anchor="middle" textLength="79.20" lengthAdjust="spacingAndGlyphs" transform="rotate(-90 298.24 86.75)">PRECENT OF POSITIVE CASES</text>
<text x="431.60" y="166.80" font-size="5.8" fill="#575757" text-anchor="middle" textLength="26.20" lengthAdjust="spacingAndGlyphs" stroke="#575757" stroke-width="0.1">Age (years)</text>
<text x="285.90" y="18.20" font-size="9.8" fill="#1a1a1a" text-anchor="start" textLength="5.90" lengthAdjust="spacingAndGlyphs" stroke="#1a1a1a" stroke-width="0.3">C</text>
<g fill="#a8a8a8">
<rect x="320.65" y="299.36" width="0.90" height="6.24"/>
<rect x="323.94" y="302.48" width="0.90" height="3.12"/>
<rect x="327.22" y="290.01" width="0.90" height="15.59"/>
<rect x="330.51" y="277.53" width="0.90" height="28.07"/>
<rect x="333.79" y="271.30" width="0.90" height="34.30"/>
<rect x="337.08" y="265.06" width="0.90" height="40.54"/>
<rect x="340.36" y="271.30" width="0.90" height="34.30"/>
<rect x="343.65" y="274.41" width="0.90" height="31.19"/>
<rect x="346.93" y="246.35" width="0.90" height="59.25"/>
<rect x="350.22" y="233.87" width="0.90" height="71.73"/>
<rect x="353.50" y="249.47" width="0.90" height="56.13"/>
<rect x="356.79" y="255.70" width="0.90" height="49.90"/>
<rect x="360.07" y="246.35" width="0.90" height="59.25"/>
<rect x="363.36" y="249.47" width="0.90" height="56.13"/>
<rect x="366.64" y="215.16" width="0.90" height="90.44"/>
<rect x="369.93" y="224.52" width="0.90" height="81.08"/>
<rect x="373.21" y="255.70" width="0.90" height="49.90"/>
<rect x="376.50" y="233.87" width="0.90" height="71.73"/>
<rect x="379.78" y="252.58" width="0.90" height="53.02"/>
<rect x="383.07" y="243.23" width="0.90" height="62.37"/>
<rect x="386.35" y="268.18" width="0.90" height="37.42"/>
<rect x="389.64" y="258.82" width="0.90" height="46.78"/>
<rect x="392.92" y="261.94" width="0.90" height="43.66"/>
<rect x="396.21" y="274.41" width="0.90" height="31.19"/>
<rect x="399.49" y="261.94" width="0.90" height="43.66"/>
<rect x="402.78" y="277.53" width="0.90" height="28.07"/>
<rect x="406.06" y="261.94" width="0.90" height="43.66"/>
<rect x="409.35" y="268.18" width="0.90" height="37.42"/>
<rect x="412.63" y="268.18" width="0.90" height="37.42"/>
<rect x="415.92" y="277.53" width="0.90" height="28.07"/>
<rect x="419.20" y="277.53" width="0.90" height="28.07"/>
<rect x="422.49" y="280.65" width="0.90" height="24.95"/>
<rect x="425.77" y="293.13" width="0.90" height="12.47"/>
<rect x="429.06" y="280.65" width="0.90" height="24.95"/>
<rect x="432.34" y="283.77" width="0.90" height="21.83"/>
<rect x="435.63" y="271.30" width="0.90" height="34.30"/>
<rect x="438.91" y="283.77" width="0.90" height="21.83"/>
<rect x="442.20" y="271.30" width="0.90" height="34.30"/>
<rect x="445.48" y="274.41" width="0.90" height="31.19"/>
<rect x="448.77" y="280.65" width="0.90" height="24.95"/>
<rect x="452.05" y="280.65" width="0.90" height="24.95"/>
<rect x="455.34" y="293.13" width="0.90" height="12.47"/>
<rect x="458.62" y="274.41" width="0.90" height="31.19"/>
<rect x="461.91" y="296.24" width="0.90" height="9.36"/>
<rect x="465.19" y="277.53" width="0.90" height="28.07"/>
<rect x="468.48" y="283.77" width="0.90" height="21.83"/>
<rect x="471.76" y="286.89" width="0.90" height="18.71"/>
<rect x="475.05" y="271.30" width="0.90" height="34.30"/>
<rect x="478.33" y="290.01" width="0.90" height="15.59"/>
<rect x="481.62" y="290.01" width="0.90" height="15.59"/>
<rect x="484.90" y="274.41" width="0.90" height="31.19"/>
<rect x="488.19" y="280.65" width="0.90" height="24.95"/>
<rect x="491.47" y="286.89" width="0.90" height="18.71"/>
<rect x="494.76" y="283.77" width="0.90" height="21.83"/>
<rect x="498.04" y="293.13" width="0.90" height="12.47"/>
<rect x="501.33" y="302.48" width="0.90" height="3.12"/>
<rect x="504.61" y="302.48" width="0.90" height="3.12"/>
<rect x="507.90" y="293.13" width="0.90" height="12.47"/>
<rect x="511.18" y="299.36" width="0.90" height="6.24"/>
<rect x="514.46" y="299.36" width="0.90" height="6.24"/>
<rect x="517.75" y="302.48" width="0.90" height="3.12"/>
<rect x="521.03" y="296.24" width="0.90" height="9.36"/>
<rect x="524.32" y="293.13" width="0.90" height="12.47"/>
<rect x="527.61" y="302.48" width="0.90" height="3.12"/>
<rect x="530.89" y="302.48" width="0.90" height="3.12"/>
<rect x="534.17" y="302.48" width="0.90" height="3.12"/>
<rect x="537.46" y="302.48" width="0.90" height="3.12"/>
<rect x="540.75" y="299.36" width="0.90" height="6.24"/>
<rect x="544.03" y="302.48" width="0.90" height="3.12"/>
</g>
<text x="315.00" y="307.26" font-size="5.2" fill="#575757" text-anchor="end" textLength="9.65" lengthAdjust="spacingAndGlyphs" stroke="#575757" stroke-width="0.1">0.00</text>
<text x="315.00" y="297.20" font-size="5.2" fill="#575757" text-anchor="end" textLength="9.65" lengthAdjust="spacingAndGlyphs" stroke="#575757" stroke-width="0.1">0.50</text>
<text x="315.00" y="287.14" font-size="5.2" fill="#575757" text-anchor="end" textLength="9.65" lengthAdjust="spacingAndGlyphs" stroke="#575757" stroke-width="0.1">1.00</text>
<text x="315.00" y="277.08" font-size="5.2" fill="#575757" text-anchor="end" textLength="9.65" lengthAdjust="spacingAndGlyphs" stroke="#575757" stroke-width="0.1">1.50</text>
<text x="315.00" y="267.02" font-size="5.2" fill="#575757" text-anchor="end" textLength="9.65" lengthAdjust="spacingAndGlyphs" stroke="#575757" stroke-width="0.1">2.00</text>
<text x="315.00" y="256.96" font-size="5.2" fill="#575757" text-anchor="end" textLength="9.65" lengthAdjust="spacingAndGlyphs" stroke="#575757" stroke-width="0.1">2.50</text>
<text x="315.00" y="246.90" font-size="5.2" fill="#575757" text-anchor="end" textLength="9.65" lengthAdjust="spacingAndGlyphs" stroke="#575757" stroke-width="0.1">3.00</text>
<text x="315.00" y="236.84" font-size="5.2" fill="#575757" text-anchor="end" textLength="9.65" lengthAdjust="spacingAndGlyphs" stroke="#575757" stroke-width="0.1">3.50</text>
<text x="315.00" y="226.78" font-size="5.2" fill="#575757" text-anchor="end" textLength="9.65" lengthAdjust="spacingAndGlyphs" stroke="#575757" stroke-width="0.1">4.00</text>
<text x="315.00" y="216.72" font-size="5.2" fill="#575757" text-anchor="end" textLength="9.65" lengthAdjust="spacingAndGlyphs" stroke="#575757" stroke-width="0.1">4.50</text>
<text x="315.00" y="206.66" font-size="5.2" fill="#575757" text-anchor="end" textLength="9.65" lengthAdjust="spacingAndGlyphs" stroke="#575757" stroke-width="0.1">5.00</text>
<text x="321.10" y="315.68" font-size="5.8" fill="#575757" text-anchor="middle" textLength="2.75" lengthAdjust="spacingAndGlyphs" stroke="#575757" stroke-width="0.1">0</text>
<text x="327.67" y="315.68" font-size="5.8" fill="#575757" text-anchor="middle" textLength="5.50" lengthAdjust="spacingAndGlyphs" stroke="#575757" stroke-width="0.1">18</text>
<text x="334.24" y="315.68" font-size="5.8" fill="#575757" text-anchor="middle" textLength="5.50" lengthAdjust="spacingAndGlyphs" stroke="#575757" stroke-width="0.1">20</text>
<text x="340.81" y="315.68" font-size="5.8" fill="#575757" text-anchor="middle" textLength="5.50" lengthAdjust="spacingAndGlyphs" stroke="#575757" stroke-width="0.1">22</text>
<text x="347.38" y="315.68" font-size="5.8" fill="#575757" text-anchor="middle" textLength="5.50" lengthAdjust="spacingAndGlyphs" stroke="#575757" stroke-width="0.1">24</text>
<text x="353.95" y="315.68" font-size="5.8" fill="#575757" text-anchor="middle" textLength="5.50" lengthAdjust="spacingAndGlyphs" stroke="#575757" stroke-width="0.1">26</text>
<text x="360.52" y="315.68" font-size="5.8" fill="#575757" text-anchor="middle" textLength="5.50" lengthAdjust="spacingAndGlyphs" stroke="#575757" stroke-width="0.1">28</text>
<text x="367.09" y="315.68" font-size="5.8" fill="#575757" text-anchor="middle" textLength="5.50" lengthAdjust="spacingAndGlyphs" stroke="#575757" stroke-width="0.1">30</text>
<text x="373.66" y="315.68" font-size="5.8" fill="#575757" text-anchor="middle" textLength="5.50" lengthAdjust="spacingAndGlyphs" stroke="#575757" stroke-width="0.1">32</text>
<text x="380.23" y="315.68" font-size="5.8" fill="#575757" text-anchor="middle" textLength="5.50" lengthAdjust="spacingAndGlyphs" stroke="#575757" stroke-width="0.1">34</text>
<text x="386.80" y="315.68" font-size="5.8" fill="#575757" text-anchor="middle" textLength="5.50" lengthAdjust="spacingAndGlyphs" stroke="#575757" stroke-width="0.1">36</text>
<text x="393.37" y="315.68" font-size="5.8" fill="#575757" text-anchor="middle" textLength="5.50" lengthAdjust="spacingAndGlyphs" stroke="#575757" stroke-width="0.1">38</text>
<text x="399.94" y="315.68" font-size="5.8" fill="#575757" text-anchor="middle" textLength="5.50" lengthAdjust="spacingAndGlyphs" stroke="#575757" stroke-width="0.1">40</text>
<text x="406.51" y="315.68" font-size="5.8" fill="#575757" text-anchor="middle" textLength="5.50" lengthAdjust="spacingAndGlyphs" stroke="#575757" stroke-width="0.1">42</text>
<text x="413.08" y="315.68" font-size="5.8" fill="#575757" text-anchor="middle" textLength="5.50" lengthAdjust="spacingAndGlyphs" stroke="#575757" stroke-width="0.1">44</text>
<text x="419.65" y="315.68" font-size="5.8" fill="#575757" text-anchor="middle" textLength="5.50" lengthAdjust="spacingAndGlyphs" stroke="#575757" stroke-width="0.1">46</text>
<text x="426.22" y="315.68" font-size="5.8" fill="#575757" text-anchor="middle" textLength="5.50" lengthAdjust="spacingAndGlyphs" stroke="#575757" stroke-width="0.1">48</text>
<text x="432.79" y="315.68" font-size="5.8" fill="#575757" text-anchor="middle" textLength="5.50" lengthAdjust="spacingAndGlyphs" stroke="#575757" stroke-width="0.1">50</text>
<text x="439.36" y="315.68" font-size="5.8" fill="#575757" text-anchor="middle" textLength="5.50" lengthAdjust="spacingAndGlyphs" stroke="#575757" stroke-width="0.1">52</text>
<text x="445.93" y="315.68" font-size="5.8" fill="#575757" text-anchor="middle" textLength="5.50" lengthAdjust="spacingAndGlyphs" stroke="#575757" stroke-width="0.1">54</text>
<text x="452.50" y="315.68" font-size="5.8" fill="#575757" text-anchor="middle" textLength="5.50" lengthAdjust="spacingAndGlyphs" stroke="#575757" stroke-width="0.1">56</text>
<text x="459.07" y="315.68" font-size="5.8" fill="#575757" text-anchor="middle" textLength="5.50" lengthAdjust="spacingAndGlyphs" stroke="#575757" stroke-width="0.1">58</text>
<text x="465.64" y="315.68" font-size="5.8" fill="#575757" text-anchor="middle" textLength="5.50" lengthAdjust="spacingAndGlyphs" stroke="#575757" stroke-width="0.1">60</text>
<text x="472.21" y="315.68" font-size="5.8" fill="#575757" text-anchor="middle" textLength="5.50" lengthAdjust="spacingAndGlyphs" stroke="#575757" stroke-width="0.1">62</text>
<text x="478.78" y="315.68" font-size="5.8" fill="#575757" text-anchor="middle" textLength="5.50" lengthAdjust="spacingAndGlyphs" stroke="#575757" stroke-width="0.1">64</text>
<text x="485.35" y="315.68" font-size="5.8" fill="#575757" text-anchor="middle" textLength="5.50" lengthAdjust="spacingAndGlyphs" stroke="#575757" stroke-width="0.1">66</text>
<text x="491.92" y="315.68" font-size="5.8" fill="#575757" text-anchor="middle" textLength="5.50" lengthAdjust="spacingAndGlyphs" stroke="#575757" stroke-width="0.1">68</text>
<text x="498.49" y="315.68" font-size="5.8" fill="#575757" text-anchor="middle" textLength="5.50" lengthAdjust="spacingAndGlyphs" stroke="#575757" stroke-width="0.1">70</text>
<text x="505.06" y="315.68" font-size="5.8" fill="#575757" text-anchor="middle" textLength="5.50" lengthAdjust="spacingAndGlyphs" stroke="#575757" stroke-width="0.1">72</text>
<text x="511.63" y="315.68" font-size="5.8" fill="#575757" text-anchor="middle" textLength="5.50" lengthAdjust="spacingAndGlyphs" stroke="#575757" stroke-width="0.1">74</text>
<text x="518.20" y="315.68" font-size="5.8" fill="#575757" text-anchor="middle" textLength="5.50" lengthAdjust="spacingAndGlyphs" stroke="#575757" stroke-width="0.1">76</text>
<text x="524.77" y="315.68" font-size="5.8" fill="#575757" text-anchor="middle" textLength="5.50" lengthAdjust="spacingAndGlyphs" stroke="#575757" stroke-width="0.1">78</text>
<text x="531.34" y="315.68" font-size="5.8" fill="#575757" text-anchor="middle" textLength="5.50" lengthAdjust="spacingAndGlyphs" stroke="#575757" stroke-width="0.1">81</text>
<text x="537.91" y="315.68" font-size="5.8" fill="#575757" text-anchor="middle" textLength="5.50" lengthAdjust="spacingAndGlyphs" stroke="#575757" stroke-width="0.1">83</text>
<text x="544.48" y="315.68" font-size="5.8" fill="#575757" text-anchor="middle" textLength="5.50" lengthAdjust="spacingAndGlyphs" stroke="#575757" stroke-width="0.1">97</text>
<text x="297.90" y="248.20" font-size="5.6" fill="#686868" text-anchor="middle" textLength="79.50" lengthAdjust="spacingAndGlyphs" transform="rotate(-90 297.90 248.20)">PRECENT OF POSITIVE CASES</text>
<text x="432.70" y="325.45" font-size="6.1" fill="#575757" text-anchor="middle" textLength="26.20" lengthAdjust="spacingAndGlyphs" stroke="#575757" stroke-width="0.1">Age (years)</text>
<text x="285.40" y="193.75" font-size="10.1" fill="#1a1a1a" text-anchor="start" textLength="6.70" lengthAdjust="spacingAndGlyphs" stroke="#1a1a1a" stroke-width="0.3">D</text>
</svg>
</body></html>
